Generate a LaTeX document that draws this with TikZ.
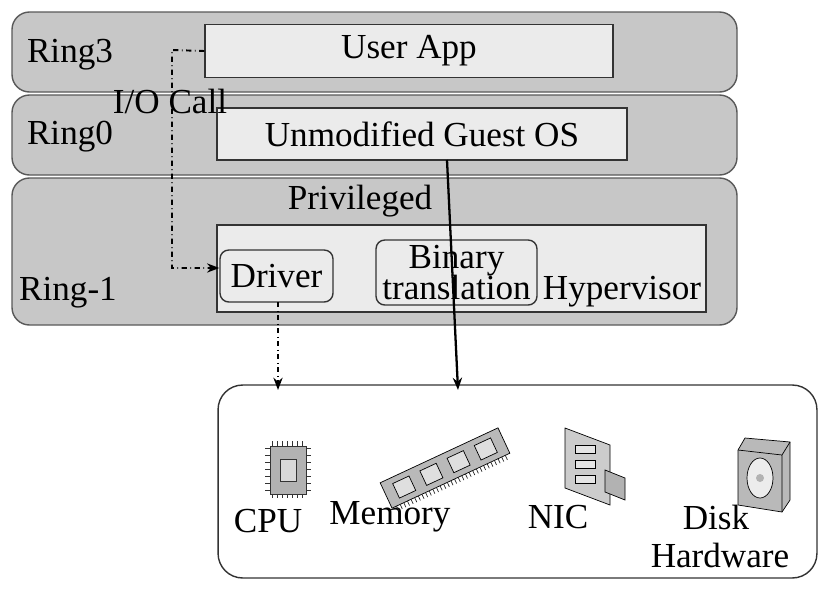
\documentclass[tikz,border=0pt]{standalone}
\usepackage{fontspec}
\setmainfont{Liberation Serif}
\usetikzlibrary{arrows.meta}
\definecolor{band}{gray}{0.78}
\definecolor{boxf}{gray}{0.92}
\begin{document}
\begin{tikzpicture}[x=0.02cm,y=-0.02cm,
 band/.style={draw=gray!70!black,fill=band,rounded corners=10pt,line width=0.8pt},
 box/.style={draw=gray!40!black,fill=boxf,line width=0.8pt},
 rbox/.style={box,rounded corners=5pt},
 lab/.style={font=\fontsize{20}{21}\selectfont,inner sep=0pt},
 dd/.style={dash dot,line width=1.1pt,-{Stealth[length=7pt]}},
 sl/.style={line width=1.3pt,-{Stealth[length=7pt]}}]
\useasboundingbox (0,0) rectangle (831,589);
\path[band] (12,12) rectangle (737,92);
\path[band] (12,95) rectangle (737,175);
\path[band] (12,178) rectangle (737,325);
\node[box,minimum width=8.16cm,minimum height=1.06cm,lab] (app) at (409,51) {User App};
\node[box,minimum width=8.2cm,minimum height=1.04cm,lab] (os) at (422,134) {Unmodified Guest OS};
\node[box,minimum width=9.78cm,minimum height=1.74cm] (hyp) at (461.5,268.5) {};
\node[rbox,minimum width=2.26cm,minimum height=1.04cm,lab] (drv) at (276.5,276) {Driver};
\node[rbox,minimum width=3.22cm,minimum height=1.3cm,lab,align=center] (bt) at (456.5,272.5) {Binary\\[-3pt]translation};
\node[lab] (hv) at (622,292) {Hypervisor};
\node[lab] (r3) at (70,55) {Ring3};
\node[lab] (r0) at (70,137) {Ring0};
\node[lab] (r1) at (68,293) {Ring-1};
\node[lab] (io) at (170,101) {I/O Call};
\node[lab] (pr) at (360,201) {Privileged};
\node[draw=gray!40!black,fill=white,rounded corners=14pt,line width=0.8pt,minimum width=11.98cm,minimum height=3.86cm] (hw) at (517.5,481.5) {};
\node[lab] (hwl) at (720,555) {Hardware};
\node[lab] (cpu) at (268,521) {CPU};
\node[lab] (mem) at (390,517) {Memory};
\node[lab] (nic) at (558,517) {NIC};
\node[lab] (dsk) at (716,517) {Disk};
% connectors
\coordinate (a1) at (172,50);
\coordinate (a2) at (172,268);
\draw[dd] (app.west) -- (a1) -- (a2) -- (drv.west|-a2);
\draw[dd] (278,302) -- (278,390);
\draw[sl] (447,160) -- (458,390);
% CPU icon
\begin{scope}
\foreach \i in {0,...,6}{\draw[gray!40!black] (272+\i*5,441)--(272+\i*5,498); \draw[gray!40!black] (265,448+\i*7)--(311,448+\i*7);}
\path[draw=gray!40!black,fill=gray!60] (270,446) rectangle (306,494);
\path[draw=gray!40!black,fill=gray!30] (280,459) rectangle (296,481);
\end{scope}
% memory icon
\begin{scope}[shift={(445,468)},rotate=25]
\path[draw=black,fill=gray!55] (-65,-14) rectangle (65,14);
\foreach \x in {-45,-15,15,45}{\path[draw=black,fill=gray!25] (\x-9,-8) rectangle (\x+9,8);}
\foreach \x in {-60,-56,...,60}{\draw[gray!30!black] (\x,14)--(\x,19);}
\end{scope}
% NIC icon
\begin{scope}
\path[draw=black,fill=gray!40] (565,428) -- (610,445) -- (610,505) -- (565,488) -- cycle;
\foreach \y in {445,460,475}{\path[fill=gray!20,draw=black] (575,\y) rectangle (595,\y+8);}
\path[draw=black,fill=gray!60] (605,470) -- (625,478) -- (625,500) -- (605,492) -- cycle;
\end{scope}
% disk icon
\begin{scope}
\path[draw=black,fill=gray!55] (738,450) -- (745,438) -- (790,442) -- (790,500) -- (782,512) -- (738,505) -- cycle;
\draw[black] (738,450) -- (782,455) -- (790,442) (782,455) -- (782,512);
\path[draw=black,fill=gray!15] (760,478) ellipse (13 and 20);
\path[fill=gray!60] (760,478) circle (4);
\end{scope}
\end{tikzpicture}
\end{document}
